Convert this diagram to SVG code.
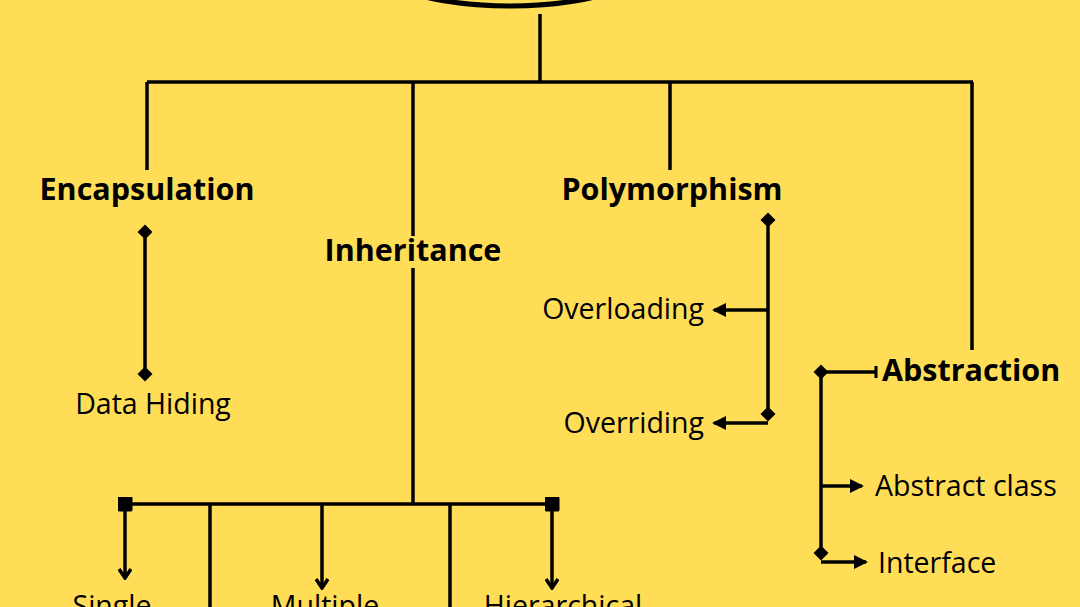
<svg xmlns="http://www.w3.org/2000/svg" width="1080" height="607" viewBox="0 0 1080 607">
<defs>
<style>
.ln{stroke:#000;stroke-width:3.5;fill:none}
.b{font-family:"Open Sans","Noto Sans",sans-serif;font-weight:bold;font-size:30.5px;fill:#000}
.n{font-family:"Open Sans","Noto Sans",sans-serif;font-size:28.5px;fill:#000}
</style>
<marker id="dia" viewBox="-8 -8 16 16" markerWidth="16" markerHeight="16" markerUnits="userSpaceOnUse" orient="auto"><path d="M0-7.5L7.5 0L0 7.5L-7.5 0Z" fill="#000"/></marker>
<marker id="sq" viewBox="-6 -6 12 12" markerWidth="15" markerHeight="15" markerUnits="userSpaceOnUse" orient="auto"><rect x="-6" y="-6" width="12" height="12" rx="1.5" fill="#000"/></marker>
<marker id="ar" viewBox="0 -7 14 14" refX="12" markerWidth="14" markerHeight="14" markerUnits="userSpaceOnUse" orient="auto"><path d="M0-7L14 0L0 7Z" fill="#000"/></marker>
<marker id="ch" viewBox="0 -7 12 14" refX="10" markerWidth="12" markerHeight="14" markerUnits="userSpaceOnUse" orient="auto"><path d="M1-6L10 0L1 6" fill="none" stroke="#000" stroke-width="3.5"/></marker>
<marker id="bar" viewBox="-2 -7 4 14" markerWidth="4" markerHeight="14" markerUnits="userSpaceOnUse" orient="auto"><rect x="-1.5" y="-6" width="3" height="12" fill="#000"/></marker>
</defs>
<rect width="1080" height="607" fill="#FFDD57"/>
<g id="root"><ellipse cx="510" cy="-70" rx="180" ry="76" fill="none" stroke="#000" stroke-width="5"/></g>
<g id="connectors" class="ln">
<path d="M540 14V82M147 82H973M147 82V170M413 82V236M670 82V170M972 82V350"/>
<path d="M145 232V374" marker-start="url(#dia)" marker-end="url(#dia)"/>
<path d="M413 268V504"/>
<path d="M768 220V414" marker-start="url(#dia)" marker-end="url(#dia)"/>
<path d="M768 310H714" marker-end="url(#ar)"/>
<path d="M768 423H714" marker-end="url(#ar)"/>
<path d="M821 372H876" marker-start="url(#dia)" marker-end="url(#bar)"/>
<path d="M821 372V553" marker-end="url(#dia)"/>
<path d="M821 486H862" marker-end="url(#ar)"/>
<path d="M821 562H866" marker-end="url(#ar)"/>
<path d="M125 504H552" marker-start="url(#sq)" marker-end="url(#sq)"/>
<path d="M125 504V578" marker-end="url(#ch)"/>
<path d="M322 504V588" marker-end="url(#ch)"/>
<path d="M552 504V588" marker-end="url(#ch)"/>
<path d="M210 504V607M450 504V607"/>
</g>
<g id="encapsulation"><text class="b" x="147" y="200" text-anchor="middle">Encapsulation</text></g>
<g id="data-hiding"><text class="n" x="153" y="414" text-anchor="middle">Data Hiding</text></g>
<g id="inheritance"><text class="b" x="413" y="261" text-anchor="middle">Inheritance</text></g>
<g id="polymorphism"><text class="b" x="672" y="200" text-anchor="middle">Polymorphism</text></g>
<g id="overloading"><text class="n" x="704" y="319" text-anchor="end">Overloading</text></g>
<g id="overriding"><text class="n" x="704" y="433" text-anchor="end">Overriding</text></g>
<g id="abstraction"><text class="b" x="882" y="381">Abstraction</text></g>
<g id="abstract-class"><text class="n" x="875" y="496">Abstract class</text></g>
<g id="interface"><text class="n" x="878" y="573">Interface</text></g>
<g id="single"><text class="n" x="112" y="616" text-anchor="middle">Single</text></g>
<g id="multiple"><text class="n" x="325" y="616" text-anchor="middle">Multiple</text></g>
<g id="hierarchical"><text class="n" x="563" y="616" text-anchor="middle">Hierarchical</text></g>
</svg>
